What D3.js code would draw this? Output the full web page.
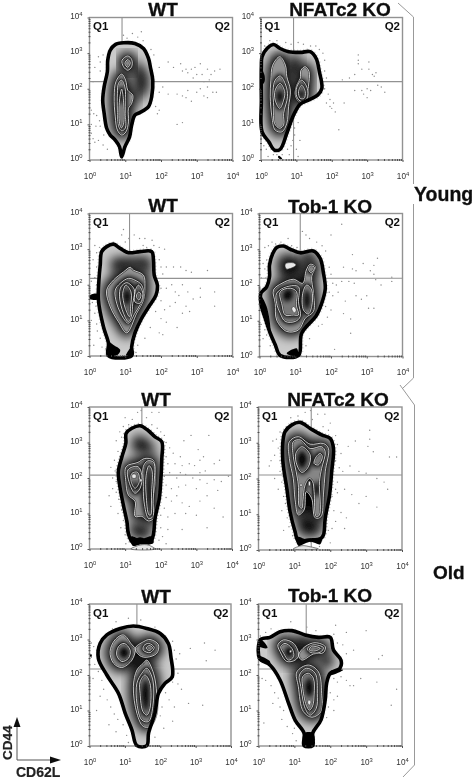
<!DOCTYPE html>
<html><head><meta charset="utf-8">
<script src="https://cdn.jsdelivr.net/npm/d3@7/dist/d3.min.js"></script>
<style>html,body{margin:0;padding:0;background:#fff}svg{display:block}text{font-family:"Liberation Sans",Arial,sans-serif}</style>
</head><body><svg id="c" width="474" height="779"></svg>
<script>
// All coordinates below are log10(value) pairs: [CD62L, CD44]
const titles = ["WT","NFATc2 KO","WT","Tob-1 KO","WT","NFATc2 KO","WT","Tob-1 KO"];
const gatesX = [.91,.92,1.12,1.14,1.47,1.47,1.34,1.33];
const gatesY = [2.2,2.2,2.18,2.19,2.08,2.1,2.17,2.17];
const decades = [1,10,100,1000,10000];
const groupLabels = ["Young","Old"];

const levels1 = [
 [[[.58,3.08],[.72,3.24],[.95,3.29],[1.27,3.27],[1.51,3.13],[1.65,2.85],[1.71,2.57],[1.77,2.24],[1.74,1.78],[1.65,1.5],[1.41,1.33],[1.27,1.26],[1.18,.98],[1.12,.65],[.99,.37],[.9,.09],[.84,.37],[.72,.56],[.58,.7],[.48,.89],[.41,1.31],[.37,1.68],[.41,2.06],[.5,2.48],[.51,2.8]]],
 [[[.9,2.41],[1.01,2.24],[1.07,1.96],[1.21,1.82],[1.18,1.59],[1.09,1.45],[1.09,1.07],[1.02,.79],[.9,.7],[.78,.84],[.72,1.21],[.69,1.78],[.74,2.2]],
  [[1.07,2.92],[1.18,2.82],[1.18,2.62],[1.07,2.52],[.95,2.62],[.91,2.8]]],
 [[[.9,2.24],[1,1.99],[1,1.68],[1,1.31],[1,.89],[.9,.82],[.82,.93],[.78,1.4],[.78,1.87],[.81,2.15]],
  [[1.07,2.82],[1.14,2.73],[1.07,2.6],[.99,2.71]]],
 [[[.9,1.99],[.95,1.68],[.95,1],[.89,.9],[.84,1.03],[.84,1.68]]]
];
const gloom1 = [[[1.27,2.8],[1.62,2.43],[1.62,1.96],[1.37,1.68],[1.27,2.15]]];
const core1 = [[[.9,2.0],[.95,1.8],[.9,1.6],[.85,1.8]]];
const black1 = [];
const pale1 = [];
const dots1 = [[.95,3.5],[1.05,3.42],[1.2,3.55],[1.35,3.45],[1.45,3.6],[1.5,3.35],[1.72,3.1],[1.8,2.95],[.25,2.9],[.3,2.75],[.38,2.95],[.15,2.6],[.3,2.5],[.1,2.2],[.05,1.4],[.12,1.3],[.2,1.25],[.28,1.1],[.05,1],[.18,.95],[.3,.95],[.4,.7],[.1,.6],[.25,.55],[.38,.42],[.15,.5],[.05,.75],[.5,.3],[1.95,2.6],[2.2,2.75],[2.35,2.6],[2.55,2.7],[2.6,2.5],[2.75,2.45],[2.85,2.55],[2.95,2.6],[3,2.4],[3.1,2.7],[3.15,2.4],[3.3,2.55],[3.4,2.4],[3.5,2.5],[3.65,2.55],[2.7,2.55],[2.9,2.3],[3.2,2.2],[3.35,2.25],[1.95,1.9],[2.05,2.05],[2.2,1.85],[2.45,1.85],[2.6,1.8],[2.7,1.75],[2.75,1.95],[2.85,1.65],[3,1.9],[3.1,2],[3.2,1.8],[3.3,1.75],[3.45,1.9],[3.55,1.9],[3.3,2.05],[1.85,1.5],[1.95,1.4],[1.9,1.3],[2.45,1],[2.6,1.05]];

const levels2 = [
 [[[.03,2.9],[.17,3.13],[.36,3.24],[.54,3.13],[.78,3.04],[1.11,3.02],[1.39,3.04],[1.56,2.85],[1.65,2.48],[1.72,2.01],[1.6,1.82],[1.34,1.68],[1.11,1.57],[.92,1.26],[.73,.75],[.54,.3],[.38,.28],[.22,.51],[.03,.79],[.01,1.68],[.01,2.62]]],
 [[[.53,2.9],[.69,2.66],[.73,2.34],[.83,1.96],[.78,1.5],[.73,1.03],[.59,.79],[.4,.84],[.31,1.21],[.26,1.78],[.28,2.24],[.33,2.66]],
  [[1.25,2.62],[1.36,2.48],[1.34,2.06],[1.28,1.64],[1.1,1.62],[.97,1.82],[1.01,2.1],[1.11,2.29],[1.13,2.52]]],
 [[[.54,2.36],[.7,2.1],[.75,1.78],[.64,1.31],[.64,.98],[.53,.89],[.38,1.03],[.36,1.5],[.34,1.96],[.4,2.24]],
  [[1.15,2.24],[1.31,2.01],[1.3,1.73],[1.14,1.64],[1.01,1.78],[1.01,2.04]]],
 [[[.54,2.15],[.67,1.92],[.64,1.68],[.53,1.45],[.4,1.68],[.4,1.96]],
  [[1.15,2.1],[1.25,1.92],[1.22,1.73],[1.11,1.73],[1.06,1.92]]]
];
const gloom2 = [[[.45,2.85],[.65,2.8],[.65,2.5],[.45,2.5]],[[.85,2.9],[1.1,2.9],[1.0,2.3],[.85,2.3]]];
const core2 = [[[.54,1.95],[.6,1.8],[.54,1.6],[.46,1.8]],[[1.15,1.95],[1.2,1.82],[1.12,1.75],[1.08,1.85]]];
const black2 = [[[.01,2.57],[.1,2.38],[.1,2.2],[.01,2.1]],[[.5,.12],[.6,.04],[.55,.02],[.48,.08]]];
const pale2 = [];
const dots2 = [[.1,3.2],[.25,3.35],[.45,3.35],[.7,3.3],[.85,3.25],[1.05,3.3],[1.2,3.25],[1.4,3.2],[1.55,3.2],[1.65,3.1],[1.75,3],[1.8,2.8],[1.8,2.5],[1.85,2.3],[1.8,2],[1.9,1.85],[1.95,1.7],[1.85,1.6],[2.05,1.6],[1.95,1.5],[2,1.45],[2.1,1.35],[2.35,1.6],[2.2,.85],[2.75,2.95],[2.75,2.8],[2.75,2.7],[3.05,2.75],[3.05,2.55],[3.15,2.4],[2.85,2.55],[2.65,2.4],[2.5,2.3],[2.3,2.25],[3.2,2.35],[3.25,2.45],[2.65,1.95],[2.85,1.95],[2.9,1.85],[3,2],[3.1,1.95],[3.3,2.1],[3.4,2.05],[3.5,1.9],[3,1.75],[.95,.7],[1.1,.55],[.85,.4],[.75,.3],[1,.3],[.8,.15],[.6,.15],[.35,.15],[.15,.3],[.08,.4],[.2,.1],[.45,.15],[1.05,.1],[.9,.55],[.95,.9],[1.05,1.05]];

const levels3 = [
 [[[.34,2.93],[.48,3.07],[.67,3.14],[.86,3.02],[1.09,2.9],[1.41,2.93],[1.74,2.93],[1.79,2.69],[1.81,2.27],[1.9,1.99],[1.86,1.71],[1.69,1.43],[1.46,1.06],[1.27,.64],[1.18,.26],[1.18,.01],[.53,.01],[.53,.36],[.39,.82],[.25,1.57],[.27,2.22],[.3,2.55]]],
 [[[1.14,2.49],[1.23,2.41],[1.51,2.27],[1.55,1.94],[1.51,1.57],[1.32,1.2],[1.04,.65],[.81,.96],[.58,1.38],[.48,1.85],[.67,2.13],[.95,2.36]]],
 [[[1.09,2.18],[1.27,2.13],[1.46,1.99],[1.51,1.66],[1.41,1.43],[1.27,1.2],[1.09,.92],[.95,1.06],[.76,1.48],[.72,1.85],[.86,2.04]]],
 [[[1.04,2.06],[1.21,1.94],[1.27,1.8],[1.21,1.48],[1.18,1.15],[1.09,.96],[.95,1.2],[.84,1.66],[.88,1.94]],
  [[1.37,1.99],[1.49,1.76],[1.41,1.48],[1.27,1.52],[1.27,1.8]]],
 [[[1.02,1.99],[1.16,1.8],[1.15,1.38],[1.12,1.1],[1,1.34],[.93,1.76]],
  [[1.38,1.8],[1.44,1.71],[1.38,1.57],[1.31,1.68]]]
];
const gloom3 = [[[.6,2.7],[1.2,2.75],[1.7,2.75],[1.65,2.35],[1.2,2.55],[.7,2.35]]];
const core3 = [[[1.04,1.85],[1.12,1.7],[1.05,1.45],[.98,1.7]]];
const black3 = [[[.02,1.71],[.25,1.74],[.25,1.59],[.02,1.6]],[[.53,.4],[.67,.31],[.86,.17],[.78,.03],[.53,.03]],[[1.04,.07],[1.18,.26],[1.18,.02],[1.02,.02]]];
const pale3 = [];
const dots3 = [[.9,3.4],[1,3.2],[1.1,3.3],[.95,3.55],[1.25,3.4],[1.4,3.3],[1.55,3.3],[1.75,3.25],[1.6,3.05],[1.5,3.1],[1.8,3.1],[1.95,3.05],[2.1,3],[.15,3.1],[.2,2.9],[.28,3.05],[.1,2.7],[.2,2.5],[.15,2.2],[.05,2.1],[.2,2],[.15,1.2],[.05,1],[.2,.9],[.3,.5],[.22,.7],[.12,.3],[.35,.25],[.45,.2],[.08,1.5],[.18,1.4],[.3,1.3],[1.95,2.7],[2,2.5],[2.05,2.3],[2.15,2.5],[2.35,2.5],[2.55,2.5],[2.7,2.4],[2.85,2.35],[3.3,2.4],[2,1.9],[2.15,1.9],[2.3,2],[2.4,1.8],[2.5,1.7],[2.6,2],[2.75,1.8],[2.9,1.6],[3.1,1.9],[3.1,1.65],[3.5,1.8],[3.5,1.4],[2,1.55],[2.1,1.3],[2.25,1.4],[2.4,1.5],[2.6,1.2],[2.7,1.4],[2.8,1.25],[1.85,1.25],[2,1.05],[2.15,.95],[2.45,.8],[1.95,.65],[2.05,.6],[1.7,.8],[1.55,.5],[1.35,.3],[1.3,.1],[1.75,2.1]];

const levels4 = [
 [[[.37,2.88],[.48,3.05],[.67,3.09],[.86,3],[1.14,2.9],[1.51,2.95],[1.7,2.74],[1.79,2.33],[1.84,1.91],[1.77,1.58],[1.6,1.16],[1.18,.65],[1.09,.03],[.58,.03],[.44,.33],[.3,.65],[.16,1.07],[.04,1.49],[.04,1.77],[.2,1.95],[.28,2.23],[.28,2.56]]],
 [[[.39,1.86],[.63,2.05],[.95,2.16],[1.21,2.05],[1.31,2.42],[1.42,2.58],[1.56,2.51],[1.46,2.23],[1.51,1.77],[1.51,1.26],[1.28,1.07],[1.09,.74],[.76,.7],[.48,1.02],[.44,1.49]]],
 [[[.48,1.77],[.76,1.95],[1.09,1.95],[1.09,1.53],[1.14,1.12],[1,.98],[.72,.98],[.58,1.21],[.48,1.49]],
  [[1.32,2],[1.46,1.86],[1.46,1.4],[1.37,1.19],[1.23,1.3],[1.21,1.77]],
  [[1.42,2.53],[1.54,2.49],[1.45,2.34],[1.38,2.42]]],
 [[[.58,1.81],[.86,1.91],[1.04,1.81],[1.03,1.44],[1.09,1.16],[.95,1.16],[.72,1.16],[.63,1.44]]]
];
const gloom4 = [[[.55,2.8],[1.15,2.75],[1.2,2.3],[.6,2.2]],[[1.2,2.9],[1.55,2.85],[1.5,2.6],[1.25,2.6]]];
const core4 = [[[1.32,1.85],[1.4,1.6],[1.32,1.3],[1.26,1.6]],[[.7,1.8],[.9,1.85],[.85,1.6],[.7,1.6]]];
const black4 = [[[.02,1.72],[.2,1.4],[.3,.74],[.19,.93],[.02,1.4]],[[.76,.09],[1.04,.23],[1.07,.03],[.86,.03]]];
const pale4 = [[[.72,2.59],[.95,2.62],[1.02,2.56],[.91,2.48],[.75,2.45]],[[.95,1.4],[1.03,1.3],[.98,1.22],[.9,1.33]]];
const dots4 = [[.35,3.2],[.25,3.1],[.15,3.05],[.45,3.15],[.6,3.2],[.8,3.3],[.9,3.1],[1.05,3.05],[1.2,3.5],[1.3,3.4],[1.4,3.3],[1.6,3.2],[1.75,3.1],[1.85,2.95],[2,3.4],[2.3,3.7],[2.6,2.85],[2.9,2.6],[3.3,2.75],[3.2,2.55],[2.35,2.5],[2.6,2.45],[2.7,2.4],[3.1,2.4],[3.2,2.3],[.2,2.7],[.1,2.6],[.15,2.45],[.05,2.2],[.18,2.2],[.08,1.9],[1.95,2.5],[2,2.3],[2.05,2.05],[2.15,2],[2.3,2.1],[2.5,2.1],[2.65,2.05],[3.25,2.15],[3.4,2],[3.7,2.1],[3.7,2.22],[1.95,1.8],[2.05,1.7],[2.2,1.8],[2.4,1.55],[2.7,1.7],[2.85,1.6],[3,1.7],[3.05,1.35],[3.2,1.35],[2.55,1.05],[2.35,1.2],[2,1.3],[1.85,1.4],[1.9,1.1],[1.75,.9],[1.65,.85],[2.55,.65],[.05,.9],[.15,.75],[.2,.6],[.1,.5],[.3,.3],[1.4,.5],[1.3,.3],[2.1,.2]];

const levels5 = [
 [[[1.03,3.26],[1.19,3.4],[1.42,3.47],[1.63,3.35],[1.84,3.16],[2.03,3.02],[2.03,2.55],[2,1.9],[1.96,1.43],[1.84,.86],[1.79,.39],[1.7,.19],[1.42,.28],[1.21,.19],[1.09,.44],[1.05,.77],[.95,1.24],[.86,1.71],[.81,2.18],[.91,2.6],[1.02,2.98]]],
 [[[1.03,2.32],[1.36,2.44],[1.55,2.55],[1.79,2.5],[1.84,1.9],[1.79,1.43],[1.79,.86],[1.65,.79],[1.47,.92],[1.28,.92],[1.28,1.34],[1.09,1.52],[1.02,1.9]]],
 [[[1.08,2.23],[1.36,2.32],[1.47,2.08],[1.42,1.71],[1.28,1.57],[1.14,1.8]],
  [[1.63,2.48],[1.8,2.44],[1.81,1.8],[1.78,1.33],[1.78,.91],[1.66,.86],[1.53,1.33],[1.51,1.9],[1.51,2.32]]],
 [[[1.19,2.13],[1.35,2.16],[1.4,1.9],[1.28,1.71],[1.17,1.9]],
  [[1.67,2.35],[1.75,2.23],[1.74,1.52],[1.72,.96],[1.67,.96],[1.59,1.52],[1.59,2.08]]]
];
const gloom5 = [[[1.3,3.2],[1.6,3.1],[1.85,2.8],[1.5,2.7],[1.2,2.8]],[[1.15,.7],[1.7,.6],[1.7,.35],[1.2,.35]]];
const core5 = [[[1.67,2.3],[1.72,1.6],[1.7,1],[1.63,1.6]],[[1.3,1.85],[1.36,1.75],[1.28,1.72],[1.24,1.8]]];
const black5 = [[[1.17,.35],[1.42,.28],[1.75,.35],[1.79,.16],[1.42,.13],[1.21,.09]]];
const pale5 = [[[1.16,0],[1.42,.11],[1.65,.11],[1.84,0]],[[1.2,2.1],[1.3,2.1],[1.3,2],[1.2,2]],[[1.43,1.98],[1.48,1.95],[1.45,1.88],[1.41,1.92]]];
const dots5 = [[1,3.7],[1.2,3.65],[1.35,3.85],[1.45,3.9],[1.6,3.7],[1.75,3.85],[1.95,3.85],[1.1,3.5],[.95,3.45],[.85,3.3],[.9,3.15],[.75,3.05],[.95,2.8],[.8,2.75],[.85,2.6],[.7,2.5],[.72,2.2],[.6,2.3],[.65,2],[.75,1.9],[.75,1.6],[.65,1.7],[.82,1.4],[.9,1.1],[.8,1],[.95,.8],[.88,.6],[1,.4],[1.02,.15],[.6,1.2],[.55,1.5],[1.75,3.5],[1.9,3.4],[2,3.3],[2.1,3.2],[2.15,3],[2.25,2.85],[2.15,2.6],[2.35,2.7],[2.55,2.6],[2.65,3.05],[2.85,3.2],[3.35,3.2],[3.05,2.8],[3.2,2.6],[3.5,2.4],[3.65,2.5],[3.1,2.5],[2.2,2.4],[2.4,2.4],[2.6,2.35],[2.8,2.4],[2.95,2.35],[3.25,2.2],[3.1,2.15],[2.1,2.05],[2.25,2.15],[2.45,2],[2.55,2.15],[2.7,2.1],[2.9,2],[3.1,1.95],[3.3,1.85],[3.5,1.95],[3.7,1.9],[3.9,2.05],[2.15,1.8],[2.3,1.7],[2.5,1.75],[2.7,1.8],[3,1.7],[3.3,1.5],[3.6,1.65],[2.15,1.45],[2.3,1.35],[2.45,1.5],[2.6,1.3],[2.8,1.2],[3.1,1.35],[3.5,1.15],[2.1,1.15],[2,.95],[2.2,.9],[2.4,1],[2.7,1],[3,.95],[3.3,.6],[2,.6],[2.05,.35],[2.2,.55],[1.95,.25],[2.15,.15],[2.6,.55],[3.75,.9]];

const levels6 = [
 [[[.74,3.31],[.93,3.5],[1.16,3.57],[1.44,3.4],[1.76,3.22],[2,3.12],[2.09,2.84],[2.04,2.19],[1.98,1.54],[1.86,.89],[1.81,.42],[1.72,.31],[1.39,.28],[1.11,.25],[1.02,.51],[.88,1.07],[.79,1.72],[.68,2.47],[.68,3.03]]],
 [[[.86,3.03],[1.11,3.17],[1.44,2.96],[1.81,2.98],[1.95,2.84],[1.86,2.19],[1.81,1.54],[1.74,.93],[1.58,.9],[1.48,1.45],[1.33,1.63],[1.27,1.12],[1.11,.98],[1.02,1.4],[.97,2],[.86,2.56]]],
 [[[.97,3.03],[1.16,3.08],[1.44,2.84],[1.76,2.89],[1.86,2.75],[1.76,2.28],[1.7,1.91],[1.7,.98],[1.61,.93],[1.55,1.63],[1.51,1.91],[1.42,2],[1.3,1.82],[1.24,1.4],[1.21,1.17],[1.14,1.21],[1.11,1.82],[1.05,2.19],[.97,2.61]]],
 [[[1.21,2.89],[1.44,2.66],[1.39,2.33],[1.21,2.17],[1.07,2.38],[1.04,2.7]],
  [[1.72,2.7],[1.78,2.61],[1.67,2.38],[1.55,2.42],[1.61,2.61]]]
];
const gloom6 = [[[1.15,1.0],[1.7,.8],[1.7,.45],[1.15,.45]]];
const core6 = [[[1.21,2.75],[1.33,2.55],[1.21,2.3],[1.1,2.55]],[[1.62,1.9],[1.68,1.7],[1.6,1.5],[1.56,1.7]]];
const black6 = [[[1.07,.37],[1.39,.28],[1.76,.34],[1.72,.16],[1.44,.23],[1.11,.12]]];
const pale6 = [[[.97,.03],[1.21,.12],[1.44,.09],[1.67,.03]],[[1.16,1.85],[1.21,1.85],[1.21,1.78],[1.16,1.78]],[[1.4,1.92],[1.44,1.92],[1.44,1.8],[1.4,1.8]]];
const dots6 = [[1,3.55],[.8,3.45],[.9,3.7],[1.1,3.75],[1.3,3.85],[1.45,3.9],[1.5,3.65],[1.65,3.8],[1.85,3.8],[2,3.55],[1.8,3.45],[1.95,3.35],[2.15,3.2],[2.2,2.95],[.6,3.3],[.5,3.1],[.4,3.05],[.55,2.85],[.45,2.65],[.6,2.5],[.35,2.5],[.3,2.35],[.6,2.2],[.45,2],[.65,1.9],[.55,1.7],[.7,1.5],[.75,1.3],[.65,1.1],[.8,.9],[.85,.65],[.7,.55],[.95,.4],[1.9,1.3],[2.05,1.5],[2.15,1.7],[2.2,1.9],[2.25,2.3],[2.15,2.5],[2.3,2.7],[2.5,2.9],[2.7,3.05],[3.1,3.35],[3.1,3.1],[3.05,2.9],[3.2,2.75],[3.65,2.6],[3.85,2.6],[2.35,2.2],[2.55,2.35],[2.8,2.2],[3,2.15],[3.3,2],[3.5,1.9],[2.2,1.6],[2.4,1.7],[2.6,1.55],[2.8,1.3],[3,1.5],[3.3,1.2],[3.6,1.7],[2.1,1.1],[2.3,1.05],[2.45,.9],[2.15,.8],[2.05,.6],[1.95,.55],[2.4,.6],[2,.2],[1.7,.1]];

const levels7 = [
 [[[.3,2.89],[.49,3.13],[.87,3.31],[1.24,3.38],[1.62,3.31],[2,3.17],[2.23,2.89],[2.3,2.52],[2.34,1.95],[2.14,1.77],[1.95,1.48],[1.85,.92],[1.67,.36],[1.62,.01],[1.34,.01],[1.2,.45],[1.01,.92],[.82,1.48],[.49,2],[.25,2.47]]],
 [[[.96,3.13],[1.2,2.85],[1.29,2.75],[1.2,2.42],[.91,2.21],[.68,2.33],[.58,2.66],[.72,2.99]],
  [[1.71,3],[1.95,2.85],[1.9,2.61],[1.62,2.5],[1.43,2.54],[1.29,2.75],[1.53,2.94]],
  [[1.62,2.42],[1.81,2.05],[1.9,1.48],[1.9,.92],[1.71,.55],[1.52,.55],[1.34,.92],[1.24,1.67],[1.34,2.14],[1.52,2.33]]],
 [[[.98,2.89],[1.15,2.7],[1.1,2.47],[.91,2.38],[.77,2.56],[.82,2.8]],
  [[1.67,2.89],[1.83,2.78],[1.71,2.63],[1.52,2.7],[1.54,2.83]],
  [[1.62,2.19],[1.79,1.86],[1.79,1.11],[1.67,.69],[1.48,.73],[1.34,1.2],[1.34,1.77],[1.48,2.05]]],
 [[[1.69,2.83],[1.78,2.77],[1.69,2.69],[1.6,2.76]],
  [[1.57,2],[1.71,1.77],[1.71,1.06],[1.62,.87],[1.51,.97],[1.43,1.48],[1.43,1.81]]]
];
const gloom7 = [[[1.2,2.55],[1.5,2.5],[1.35,2.1],[1.15,2.2]]];
const core7 = [[[.98,2.78],[1.1,2.62],[.98,2.48],[.85,2.62]],[[1.59,1.85],[1.66,1.5],[1.6,1],[1.5,1.5]]];
const black7 = [[[.02,2.58],[.06,2.58],[.06,2.52],[.02,2.52]]];
const pale7 = [];
const dots7 = [[.05,2.9],[.12,2.8],[.2,2.7],[.05,2.5],[.15,2.3],[.25,2.1],[.1,1.9],[.35,1.85],[.4,1.6],[.3,1.4],[.5,1.3],[.6,1.1],[.7,.9],[.8,.75],[.95,.6],[.75,.4],[1.05,.3],[1.1,.1],[.55,.6],[.2,1],[.65,3.3],[.75,3.5],[1.1,3.6],[1.45,3.55],[1.85,3.35],[2.15,3.1],[2.35,2.95],[2.4,2.7],[2.45,2.45],[2.55,2.6],[2.85,2.75],[3.25,2.9],[3.55,2.7],[3.3,2.4],[2.5,2.05],[2.35,1.8],[2.5,1.75],[2.6,1.6],[2.15,1.5],[2.25,1.3],[2.4,1.1],[2.05,1.1],[2,.85],[2.35,.7],[2.8,1.2],[3.2,1.15],[2.1,.5],[1.85,.25]];

const levels8 = [
 [[[.06,3],[.32,3.06],[.6,3.22],[.93,3.25],[1.3,3.13],[1.67,3.06],[2,3.06],[2.09,2.7],[2.3,2.42],[2.27,2.19],[2,2.05],[1.9,1.77],[1.86,1.3],[1.74,.73],[1.51,.36],[1.51,.01],[1.27,.01],[1.27,.36],[1.02,.73],[.84,1.2],[.6,1.86],[.32,2.28],[.03,2.47]]],
 [[[.7,2.99],[.98,2.89],[1.12,2.56],[1.02,2.42],[.79,2.38],[.6,2.66],[.54,2.85]],
  [[1.58,2.91],[1.86,2.8],[1.81,2.63],[1.53,2.59],[1.21,2.42],[1.12,2.56],[1.3,2.8]],
  [[1.39,2.28],[1.67,2.09],[1.76,1.48],[1.74,.97],[1.49,.81],[1.25,.97],[1.11,1.67],[1.07,2.09]]],
 [[[.74,2.89],[.93,2.75],[.98,2.52],[.84,2.42],[.7,2.61],[.62,2.8]],
  [[1.53,2.85],[1.81,2.77],[1.72,2.64],[1.44,2.64],[1.36,2.75]],
  [[1.34,2.19],[1.58,2.05],[1.64,1.48],[1.61,1.06],[1.44,.87],[1.3,1.06],[1.18,1.67],[1.14,2]]],
 [[[1.48,2.81],[1.72,2.75],[1.58,2.68],[1.42,2.7]],
  [[1.39,2.05],[1.53,1.91],[1.55,1.44],[1.51,1.13],[1.42,1.01],[1.33,1.15],[1.23,1.67],[1.23,1.95]]]
];
const gloom8 = [[[1.05,3.05],[1.4,3.05],[1.3,2.8],[1.05,2.8]],[[1.8,2.55],[2.1,2.5],[1.95,2.2],[1.7,2.3]]];
const core8 = [[[.85,2.78],[.95,2.65],[.85,2.5],[.75,2.65]],[[1.42,1.9],[1.5,1.6],[1.42,1.4],[1.32,1.65]]];
const black8 = [[[.03,3.03],[.19,2.89],[.25,2.76],[.03,2.8]],[[.03,2.47],[.32,2.28],[.32,2.38],[.03,2.53]],[[2.09,2.14],[2.36,2.14],[2,2],[2,2.1]],[[1.27,.36],[1.53,.36],[1.53,.01],[1.27,.01]]];
const pale8 = [[[.88,2.7],[.93,2.68],[.9,2.63],[.86,2.65]],[[1.4,1.3],[1.46,1.25],[1.42,1.15],[1.37,1.22]]];
const dots8 = [[.05,3.1],[.2,3.2],[.35,3.3],[.9,3.5],[1.35,3.35],[1.6,3.25],[2.15,3.4],[2.1,3.15],[2.2,2.9],[2.45,3.2],[3,3.25],[2.35,2.85],[2.45,2.6],[2.65,2.7],[3.35,2.45],[3.45,2.55],[2.1,1.9],[2.2,1.8],[2.3,1.95],[2.45,1.85],[2.55,1.7],[2.65,1.7],[2.85,1.9],[3.3,1.8],[3.85,1.6],[2,1.5],[2.1,1.3],[2.2,1.4],[1.95,1.1],[2.1,1],[1.9,.8],[3.7,1.15],[.1,1.9],[.2,1.85],[.35,1.7],[.45,1.5],[.55,1.35],[.4,1.2],[.7,1],[.65,.75],[.8,.55],[.95,.35],[1,.5],[.15,.65],[.6,1.1],[1.05,.15]];

// layout
const frames = [[89.5,232.5,17.5,160],[261,402.5,17.5,160],[89.5,232.5,213.5,356],[259.5,402.5,213.5,356.5],[89.5,232,407,549],[258.5,402,407,550],[89.5,231,604,746],[258.5,402,604,746]];
const titlePos = [[163,16],[340,15.5],[163,212],[330,212.5],[156,405.5],[338,405.5],[156,602.5],[330,602]];
const haloStrength = [.08,.3,.3,.35,.55,.5,.05,.08];
const allLevels=[levels1,levels2,levels3,levels4,levels5,levels6,levels7,levels8];
const allGloom=[gloom1,gloom2,gloom3,gloom4,gloom5,gloom6,gloom7,gloom8];
const allCore=[core1,core2,core3,core4,core5,core6,core7,core8];
const allBlack=[black1,black2,black3,black4,black5,black6,black7,black8];
const allPale=[pale1,pale2,pale3,pale4,pale5,pale6,pale7,pale8];
const allDots=[dots1,dots2,dots3,dots4,dots5,dots6,dots7,dots8];

const svg=d3.select("#c");
const defs=svg.append("defs");
[["b6",5.5],["b2",2.4]].forEach(([id,s])=>defs.append("filter").attr("id",id).attr("x","-50%").attr("y","-50%").attr("width","200%").attr("height","200%").append("feGaussianBlur").attr("stdDeviation",s));
defs.append("filter").attr("id","soft").attr("filterUnits","userSpaceOnUse").attr("x",0).attr("y",0).attr("width",474).attr("height",779).append("feGaussianBlur").attr("stdDeviation",.45);
const root=svg.append("g").attr("filter","url(#soft)");
root.append("rect").attr("width",474).attr("height",779).attr("fill","#fff");

const frameColor="#929292", tickColor="#444", labelColor="#333";
const minors=[];
decades.slice(0,-1).forEach(d=>{for(let m=2;m<10;m++)minors.push(d*m)});

frames.forEach((f,i)=>{
  const [x0,x1,y0,y1]=f;
  const x=d3.scaleLog().domain([1,1e4]).range([x0,x1]);
  const y=d3.scaleLog().domain([1,1e4]).range([y1,y0]);
  const X=v=>x(Math.pow(10,Math.max(v,0))), Y=v=>y(Math.pow(10,Math.max(v,0)));
  const closed=d3.line().x(d=>X(d[0])).y(d=>Y(d[1])).curve(d3.curveCatmullRomClosed.alpha(.5));
  const g=root.append("g");
  const frameClip=defs.append("clipPath").attr("id","fr"+i);
  frameClip.append("rect").attr("x",x0).attr("y",y0).attr("width",x1-x0).attr("height",y1-y0);
  // dots
  g.append("g").selectAll("circle").data(allDots[i]).join("circle")
    .attr("cx",d=>X(d[0])).attr("cy",d=>Y(d[1])).attr("r",.7).attr("fill","#8a8a8a");
  // scatter halo hugging the outer contour
  const hg=g.append("g").attr("clip-path",`url(#fr${i})`);
  hg.selectAll("path.h1").data(allLevels[i][0]).join("path").attr("class","h1").attr("d",closed).attr("fill","none").attr("stroke","#777").attr("stroke-width",6).attr("stroke-dasharray","1 2.3").attr("opacity",haloStrength[i]);
  // frame
  g.append("rect").attr("x",x0).attr("y",y0).attr("width",x1-x0).attr("height",y1-y0).attr("fill","none").attr("stroke",frameColor).attr("stroke-width",1.4);
  // gates
  const gv=Math.pow(10,gatesX[i]), gh=Math.pow(10,gatesY[i]);
  g.append("line").attr("x1",x(gv)).attr("x2",x(gv)).attr("y1",y0).attr("y2",y1).attr("stroke",frameColor).attr("stroke-width",1.1);
  g.append("line").attr("x1",x0).attr("x2",x1).attr("y1",y(gh)).attr("y2",y(gh)).attr("stroke",frameColor).attr("stroke-width",1.1);

  const levels=allLevels[i];
  const clipId=l=>`cl${i}_${l}`;
  levels.forEach((polys,l)=>{
    const cp=defs.append("clipPath").attr("id",clipId(l));
    cp.selectAll("path").data(polys).join("path").attr("d",closed);
  });
  const clipG=l=>g.append("g").attr("clip-path",`url(#${clipId(l)})`);
  const fills=["#cacaca","#929292","#868686","#787878","#686868"];
  g.append("g").selectAll("path").data(levels[0]).join("path").attr("d",closed).attr("fill",fills[0]);
  clipG(0).selectAll("path").data(allGloom[i]).join("path").attr("d",closed).attr("fill","#000").attr("opacity",.95).attr("filter","url(#b6)");
  for(let l=1;l<levels.length;l++){
    clipG(l-1).selectAll("path").data(levels[l]).join("path").attr("d",closed).attr("fill","#000").attr("stroke","#000").attr("stroke-width",l==1?9:4).attr("filter",l==1?"url(#b6)":"url(#b2)");
    clipG(l-1).selectAll("path.f").data(levels[l]).join("path").attr("class","f").attr("d",closed).attr("fill",fills[l]);
  }
  clipG(0).selectAll("path").data(allCore[i]).join("path").attr("d",closed).attr("fill","#000").attr("stroke","#000").attr("stroke-width",2).attr("filter","url(#b2)");
  for(let l=1;l<levels.length;l++){
    g.append("g").selectAll("path").data(levels[l]).join("path").attr("d",closed).attr("fill","none").attr("stroke","#111").attr("stroke-width",2).attr("opacity",.6);
    g.append("g").selectAll("path").data(levels[l]).join("path").attr("d",closed).attr("fill","none").attr("stroke","#eee").attr("stroke-width",.8);
  }
  g.append("g").selectAll("path").data(levels[0]).join("path").attr("d",closed).attr("fill","none").attr("stroke","#000").attr("stroke-width",3.6).attr("stroke-linejoin","round");
  g.append("g").selectAll("path").data(allBlack[i]).join("path").attr("d",closed).attr("fill","#000");
  g.append("g").selectAll("path").data(allPale[i]).join("path").attr("d",closed).attr("fill","#e8e8e8").attr("stroke","#333").attr("stroke-width",.6);

  // axes through d3
  const styleTicks=s=>{s.select(".domain").remove();s.selectAll("line").attr("stroke",tickColor).attr("stroke-width",.9)};
  g.append("g").attr("transform",`translate(0,${y1+1})`).call(d3.axisTop(x).tickValues(minors).tickSize(2).tickFormat("")).call(styleTicks);
  g.append("g").attr("transform",`translate(${x0-1},0)`).call(d3.axisRight(y).tickValues(minors).tickSize(2).tickFormat("")).call(styleTicks);
  const sup=(sel)=>sel.each(function(d){
    const t=d3.select(this).text(null).attr("fill",labelColor).style("font-size","8.2px");
    t.append("tspan").text("10");
    t.append("tspan").attr("dy","-3").style("font-size","5.8px").text(Math.round(Math.log10(d)));
  });
  const ax=g.append("g").attr("transform",`translate(0,${y1})`).call(d3.axisBottom(x).tickValues(decades).tickSize(2).tickPadding(11));
  ax.call(styleTicks); ax.selectAll("text").call(sup).attr("text-anchor","middle");
  const ay=g.append("g").attr("transform",`translate(${x0},0)`).call(d3.axisLeft(y).tickValues(decades).tickSize(2).tickPadding(5));
  ay.call(styleTicks); ay.selectAll("text").call(sup).attr("dy","0.1em");

  // labels
  g.append("text").attr("x",x0+3.5).attr("y",y0+12.5).text("Q1").attr("font-weight","bold").attr("font-size",11.5).attr("fill","#111");
  g.append("text").attr("x",x1-2.5).attr("y",y0+12.5).attr("text-anchor","end").text("Q2").attr("font-weight","bold").attr("font-size",11.5).attr("fill","#111");
  g.append("text").attr("x",titlePos[i][0]).attr("y",titlePos[i][1]).attr("text-anchor","middle").text(titles[i]).attr("font-weight","bold").attr("font-size",19).attr("fill","#111").attr("stroke","#111").attr("stroke-width",.35);
});

// brackets
const bracket=(pts)=>root.append("path").attr("d",d3.line()(pts)).attr("fill","none").attr("stroke","#999").attr("stroke-width",1);
bracket([[398,3],[413.5,17],[413.5,184]]);
bracket([[413.5,204],[413.5,378],[402,389]]);
bracket([[400,385],[414.5,405],[414.5,765],[403,777]]);
root.append("text").attr("x",414).attr("y",201).text(groupLabels[0]).attr("font-weight","bold").attr("font-size",19.5).attr("fill","#111").attr("stroke","#111").attr("stroke-width",.3);
root.append("text").attr("x",433).attr("y",579).text(groupLabels[1]).attr("font-weight","bold").attr("font-size",19).attr("fill","#111").attr("stroke","#111").attr("stroke-width",.3);

// axis key
const ak=root.append("g");
ak.append("path").attr("d","M17,760V724M17,760H52").attr("fill","none").attr("stroke","#555").attr("stroke-width",1);
ak.append("path").attr("d","M17,717L13.5,727H20.5Z").attr("fill","#111");
ak.append("path").attr("d","M61,760L50,756.5V763.5Z").attr("fill","#111");
ak.append("text").attr("transform","translate(12,760) rotate(-90)").text("CD44").attr("font-weight","bold").attr("font-size",13.5).attr("fill","#222").attr("stroke","#222").attr("stroke-width",.2);
ak.append("text").attr("x",16).attr("y",776.5).text("CD62L").attr("font-weight","bold").attr("font-size",14).attr("fill","#222").attr("stroke","#222").attr("stroke-width",.2);
</script></body></html>
